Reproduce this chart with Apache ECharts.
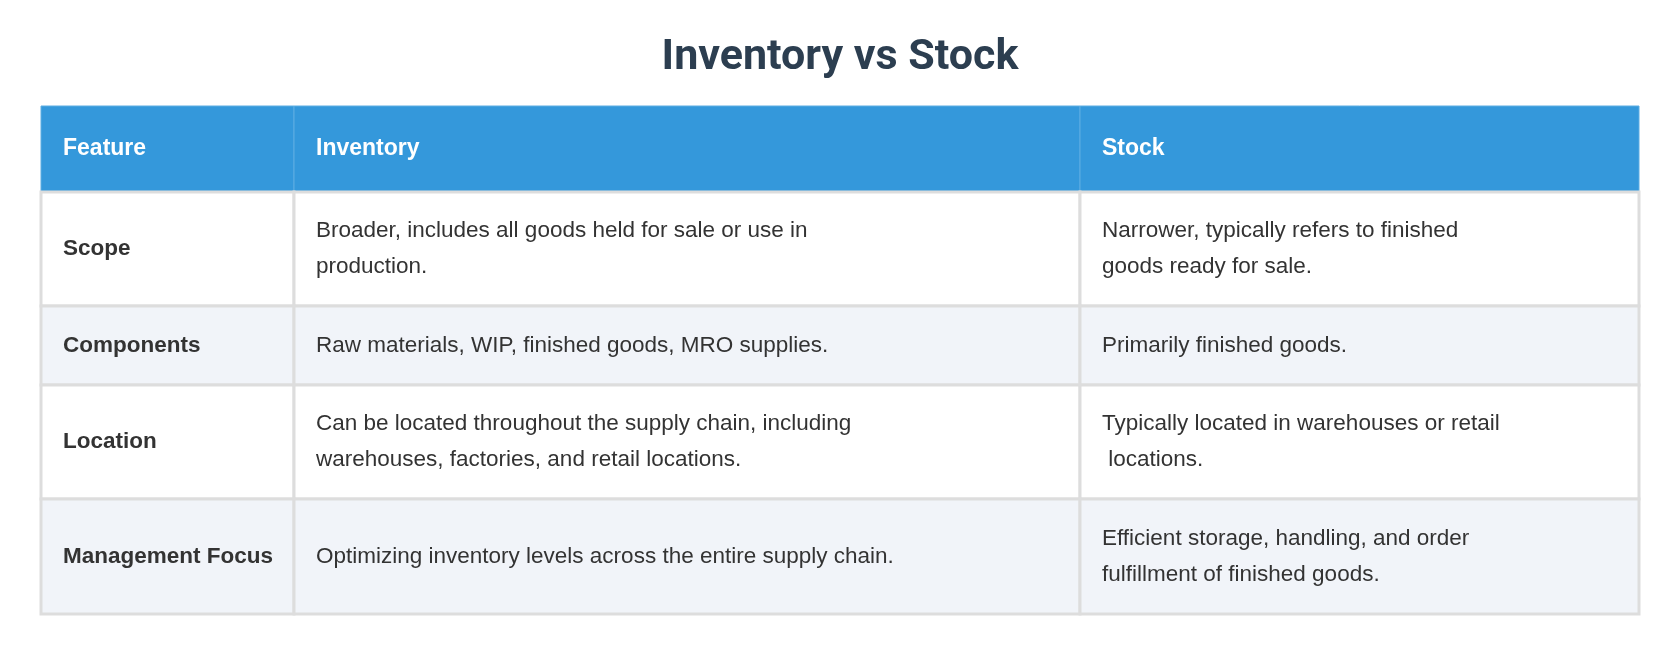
<!DOCTYPE html>
<html>
<head>
<meta charset="utf-8">
<script src="https://cdn.jsdelivr.net/npm/echarts@6/dist/echarts.min.js"></script>
<style>
html, body { margin: 0; padding: 0; background: #fff; }
#main { width: 1680px; height: 656px; }
</style>
</head>
<body>
<div id="main"></div>
<script>
var title = 'Inventory vs Stock';
var headers = ['Feature', 'Inventory', 'Stock'];
var features = ['Scope', 'Components', 'Location', 'Management Focus'];
var inventory = [
    'Broader, includes all goods held for sale or use in production.',
    'Raw materials, WIP, finished goods, MRO supplies.',
    'Can be located throughout the supply chain, including warehouses, factories, and retail locations.',
    'Optimizing inventory levels across the entire supply chain.'
];
var stock = [
    'Narrower, typically refers to finished goods ready for sale.',
    'Primarily finished goods.',
    'Typically located in warehouses or retail locations.',
    'Efficient storage, handling, and order fulfillment of finished goods.'
];

var chartDom = document.getElementById('main');
var myChart = echarts.init(chartDom);

// layout
var colX = [41, 294, 1080, 1639];
var rowY = [106, 192, 306, 385, 499, 614];
var font = '"Liberation Sans", Arial, sans-serif';

var elements = [];

function cell(x0, x1, y0, y1, txt, fill, color, bold, size) {
    elements.push({
        type: 'rect',
        shape: { x: x0, y: y0, width: x1 - x0, height: y1 - y0 },
        style: { fill: fill, stroke: fill === '#3498db' ? '#5dade2' : '#dddddd', lineWidth: fill === '#3498db' ? 1 : 3 }
    });
    elements.push({
        type: 'text',
        x: x0 + 22,
        y: (y0 + y1) / 2,
        style: {
            text: txt,
            fill: color,
            font: (bold ? 'bold ' : '') + size + 'px ' + font,
            width: x1 - x0 - 44,
            overflow: 'break',
            lineHeight: 36,
            verticalAlign: 'middle',
            align: 'left'
        }
    });
}

headers.forEach(function (h, i) {
    cell(colX[i], colX[i + 1], rowY[0], rowY[1], h, '#3498db', '#ffffff', true, 23);
});

features.forEach(function (f, r) {
    var fill = r % 2 === 1 ? '#f1f4f9' : '#ffffff';
    var cols = [f, inventory[r], stock[r]];
    cols.forEach(function (t, c) {
        cell(colX[c], colX[c + 1], rowY[r + 1], rowY[r + 2], t, fill, '#333333', c === 0, 22.5);
    });
});

var option = {
    backgroundColor: '#ffffff',
    title: {
        text: title,
        left: 'center',
        top: 32,
        textStyle: { fontSize: 43, fontWeight: 'bold', color: '#2c3e50', fontFamily: 'Roboto' }
    },
    graphic: { elements: elements }
};

option && myChart.setOption(option);
</script>
</body>
</html>
